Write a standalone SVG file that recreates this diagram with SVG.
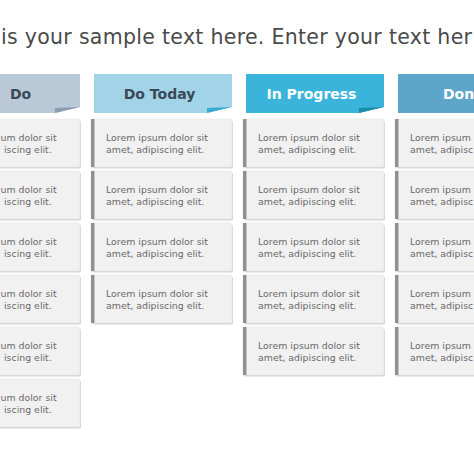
<svg xmlns="http://www.w3.org/2000/svg" xmlns:xlink="http://www.w3.org/1999/xlink" width="474" height="474" viewBox="0 0 474 474">
<style>
.title{font-family:"DejaVu Sans",Verdana,sans-serif;font-size:20.5px;fill:#4a4a4a}
.hd{font-family:"DejaVu Sans",Verdana,sans-serif;font-size:14px;font-weight:bold;text-anchor:middle}
.dark{fill:#3b4856}
.light{fill:#ffffff}
.ct{font-family:"DejaVu Sans",Verdana,sans-serif;font-size:9.4px;fill:#6a6a6a}
.st{text-anchor:start}
</style>
<defs>
<g id="card">
<rect x="1" y="1.5" width="141" height="48" rx="2" fill="#d4d4d4"/>
<rect x="0" y="0" width="141" height="48" rx="2" fill="#f1f1f1" stroke="#e6e6e6" stroke-width="0.6"/>
<rect x="0" y="0" width="3" height="48" fill="#8f8f8f"/>
<rect x="3" y="0" width="1" height="48" fill="#c4c4c4"/>
</g>
</defs>
<rect width="474" height="474" fill="#ffffff"/>
<text class="title" x="1" y="43.5" textLength="471" lengthAdjust="spacing">is your sample text here. Enter your text her</text>

<g id="col-todo">
<g id="hdr-todo">
<path d="M-58,74 H80 V107 L55,113 H-58 Z" fill="#b9c9d8"/>
<path d="M55,108 L80,107 L55,113 Z" fill="#8a9db0"/>
<text class="hd dark st" x="10" y="99">Do</text>
</g>
<g id="todo-1"><use xlink:href="#card" x="-61" y="119"/><text class="ct" x="0.5" y="141">um dolor sit</text><text class="ct" x="4" y="152.5">iscing elit.</text></g>
<g id="todo-2"><use xlink:href="#card" x="-61" y="171"/><text class="ct" x="0.5" y="193">um dolor sit</text><text class="ct" x="4" y="204.5">iscing elit.</text></g>
<g id="todo-3"><use xlink:href="#card" x="-61" y="223"/><text class="ct" x="0.5" y="245">um dolor sit</text><text class="ct" x="4" y="256.5">iscing elit.</text></g>
<g id="todo-4"><use xlink:href="#card" x="-61" y="275"/><text class="ct" x="0.5" y="297">um dolor sit</text><text class="ct" x="4" y="308.5">iscing elit.</text></g>
<g id="todo-5"><use xlink:href="#card" x="-61" y="327"/><text class="ct" x="0.5" y="349">um dolor sit</text><text class="ct" x="4" y="360.5">iscing elit.</text></g>
<g id="todo-6"><use xlink:href="#card" x="-61" y="379"/><text class="ct" x="0.5" y="401">um dolor sit</text><text class="ct" x="4" y="412.5">iscing elit.</text></g>
</g>

<g id="col-today">
<g id="hdr-today">
<path d="M94,74 H232 V107 L207,113 H94 Z" fill="#a0d4e6"/>
<path d="M207,108 L232,107 L207,113 Z" fill="#3aa9d6"/>
<text class="hd dark" x="159.5" y="99">Do Today</text>
</g>
<g id="today-1"><use xlink:href="#card" x="91" y="119"/><text class="ct" x="106" y="141">Lorem ipsum dolor sit</text><text class="ct" x="106" y="152.5">amet, adipiscing elit.</text></g>
<g id="today-2"><use xlink:href="#card" x="91" y="171"/><text class="ct" x="106" y="193">Lorem ipsum dolor sit</text><text class="ct" x="106" y="204.5">amet, adipiscing elit.</text></g>
<g id="today-3"><use xlink:href="#card" x="91" y="223"/><text class="ct" x="106" y="245">Lorem ipsum dolor sit</text><text class="ct" x="106" y="256.5">amet, adipiscing elit.</text></g>
<g id="today-4"><use xlink:href="#card" x="91" y="275"/><text class="ct" x="106" y="297">Lorem ipsum dolor sit</text><text class="ct" x="106" y="308.5">amet, adipiscing elit.</text></g>
</g>

<g id="col-progress">
<g id="hdr-progress">
<path d="M246,74 H384 V107 L359,113 H246 Z" fill="#3ab4da"/>
<path d="M359,108 L384,107 L359,113 Z" fill="#1c8cad"/>
<text class="hd light" x="311.5" y="99">In Progress</text>
</g>
<g id="progress-1"><use xlink:href="#card" x="243" y="119"/><text class="ct" x="258" y="141">Lorem ipsum dolor sit</text><text class="ct" x="258" y="152.5">amet, adipiscing elit.</text></g>
<g id="progress-2"><use xlink:href="#card" x="243" y="171"/><text class="ct" x="258" y="193">Lorem ipsum dolor sit</text><text class="ct" x="258" y="204.5">amet, adipiscing elit.</text></g>
<g id="progress-3"><use xlink:href="#card" x="243" y="223"/><text class="ct" x="258" y="245">Lorem ipsum dolor sit</text><text class="ct" x="258" y="256.5">amet, adipiscing elit.</text></g>
<g id="progress-4"><use xlink:href="#card" x="243" y="275"/><text class="ct" x="258" y="297">Lorem ipsum dolor sit</text><text class="ct" x="258" y="308.5">amet, adipiscing elit.</text></g>
<g id="progress-5"><use xlink:href="#card" x="243" y="327"/><text class="ct" x="258" y="349">Lorem ipsum dolor sit</text><text class="ct" x="258" y="360.5">amet, adipiscing elit.</text></g>
</g>

<g id="col-done">
<g id="hdr-done">
<path d="M398,74 H536 V107 L511,113 H398 Z" fill="#5ea6c9"/>
<path d="M511,108 L536,107 L511,113 Z" fill="#3a7fa3"/>
<text class="hd light st" x="443" y="99">Don</text>
</g>
<g id="done-1"><use xlink:href="#card" x="395" y="119"/><text class="ct" x="410" y="141">Lorem ipsum</text><text class="ct" x="410" y="152.5">amet, adipisc</text></g>
<g id="done-2"><use xlink:href="#card" x="395" y="171"/><text class="ct" x="410" y="193">Lorem ipsum</text><text class="ct" x="410" y="204.5">amet, adipisc</text></g>
<g id="done-3"><use xlink:href="#card" x="395" y="223"/><text class="ct" x="410" y="245">Lorem ipsum</text><text class="ct" x="410" y="256.5">amet, adipisc</text></g>
<g id="done-4"><use xlink:href="#card" x="395" y="275"/><text class="ct" x="410" y="297">Lorem ipsum</text><text class="ct" x="410" y="308.5">amet, adipisc</text></g>
<g id="done-5"><use xlink:href="#card" x="395" y="327"/><text class="ct" x="410" y="349">Lorem ipsum</text><text class="ct" x="410" y="360.5">amet, adipisc</text></g>
</g>
<g id="connectors"/>
</svg>
